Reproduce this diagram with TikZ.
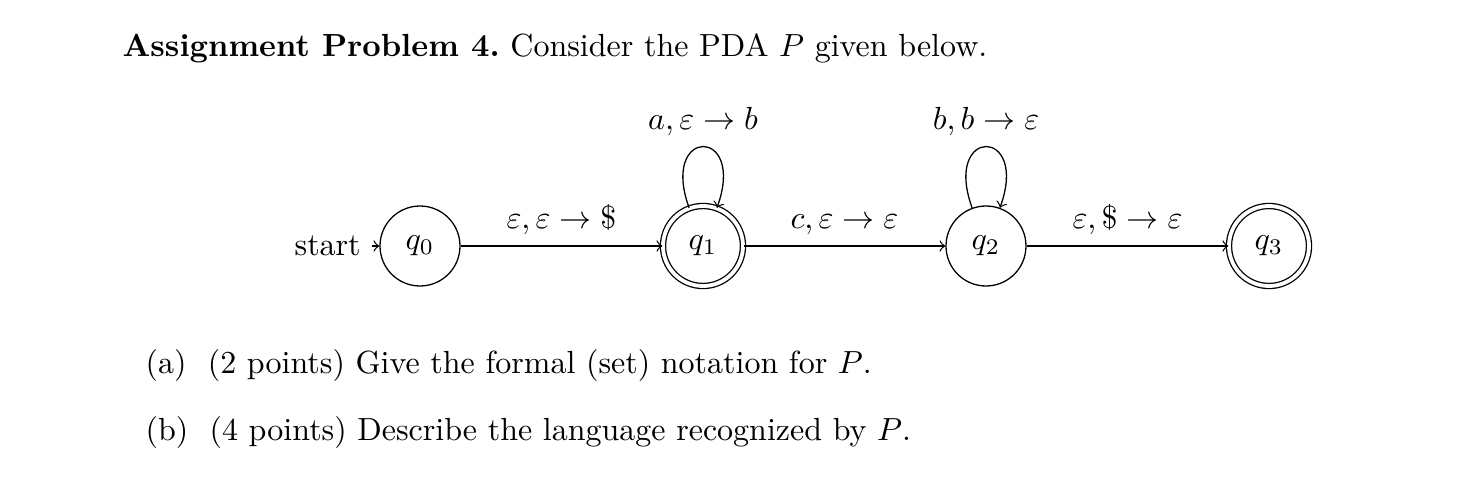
\documentclass[tikz,border=0pt]{standalone}
\usetikzlibrary{automata,positioning}
\begin{document}
\begin{tikzpicture}[x=0.3125pt,y=-0.3125pt,>=to,
  st/.style={circle,draw,minimum size=25pt,inner sep=0pt},
  acc/.style={st,double,double distance=1.2pt},
  lbl/.style={font=\normalsize}]
\useasboundingbox (0,0) rectangle (1460,480);
\node[anchor=base west,inner sep=0pt] (title) at (122,56) {\textbf{Assignment Problem 4.}\ Consider the PDA $P$ given below.};
\node[st] (q0) at (420,246) {$q_0$};
\node[acc] (q1) at (703,246) {$q_1$};
\node[st] (q2) at (986,246) {$q_2$};
\node[acc] (q3) at (1269,246) {$q_3$};
\node[anchor=east] (start) at (372,246) {start};
\draw[->] (start) -- (q0);
\draw[->] (q0) -- node[above] {$\varepsilon,\varepsilon\to\$$} (q1);
\draw[->] (q1) -- node[above] {$c,\varepsilon\to\varepsilon$} (q2);
\draw[->] (q2) -- node[above] {$\varepsilon,\$\to\varepsilon$} (q3);
\draw[->] (q1) edge[loop above,looseness=8,min distance=0pt,in=70,out=110] node[above] {$a,\varepsilon\to b$} (q1);
\draw[->] (q2) edge[loop above,looseness=8,min distance=0pt,in=70,out=110] node[above] {$b,b\to\varepsilon$} (q2);
\node[anchor=base west,inner sep=0pt] (pa) at (145,373) {(a)\ \ (2 points) Give the formal (set) notation for $P$.};
\node[anchor=base west,inner sep=0pt] (pb) at (145,440) {(b)\ \ (4 points) Describe the language recognized by $P$.};
\end{tikzpicture}
\end{document}
